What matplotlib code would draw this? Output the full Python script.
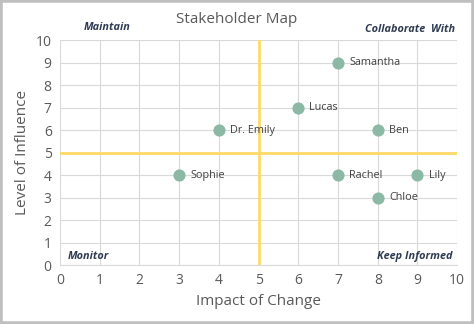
import matplotlib as mpl
mpl.use('Agg')
import matplotlib.pyplot as plt
from matplotlib.patches import Rectangle

names = ['Samantha', 'Lucas', 'Dr. Emily', 'Ben', 'Sophie', 'Rachel', 'Lily', 'Chloe']
impact = [7, 6, 4, 8, 3, 7, 9, 8]
influence = [9, 7, 6, 6, 4, 4, 4, 3]

plt.rcParams['font.family'] = ['Open Sans', 'DejaVu Sans']
txt = '#595959'
quad = '#2f3b52'

fig = plt.figure(figsize=(4.74, 3.24), dpi=100)
fig.patches.append(Rectangle((0, 0), 1, 1, transform=fig.transFigure,
                             fill=False, edgecolor='#bfbfbf', linewidth=4))
ax = fig.add_axes([0.1266, 0.182, 0.838, 0.694])
ax.set_xlim(0, 10)
ax.set_ylim(0, 10)
ax.set_xticks(range(11))
ax.set_yticks(range(11))
ax.grid(True, color='#d9d9d9', linewidth=0.8)
ax.set_axisbelow(True)
for s in ax.spines.values():
    s.set_visible(False)
ax.spines['bottom'].set_visible(True)
ax.spines['bottom'].set_color('#d9d9d9')
ax.tick_params(length=0, labelsize=10, colors=txt, pad=6)

ax.axvline(5, color='#ffd966', linewidth=2, zorder=2)
ax.axhline(5, color='#ffd966', linewidth=2, zorder=2)

ax.scatter(impact, influence, s=60, color='#8cb9a6', zorder=3)
for n, x, y in zip(names, impact, influence):
    ax.annotate(n, (x, y), xytext=(8, 0), textcoords='offset points',
                va='center', ha='left', fontsize=7.8, color='#404040')

ax.set_xlabel('Impact of Change', fontsize=11, color=txt, labelpad=4)
ax.set_ylabel('Level of Influence', fontsize=11, color=txt, labelpad=4)

fig.text(0.5, 0.94, 'Stakeholder Map', ha='center', va='center', fontsize=11, color=txt)
fig.text(0.226, 0.915, 'Maintain', ha='center', va='center', fontsize=7.8,
         color=quad, style='italic', weight='bold')
fig.text(0.96, 0.91, 'Collaborate  With', ha='right', va='center', fontsize=7.8,
         color=quad, style='italic', weight='bold')
fig.text(0.142, 0.207, 'Monitor', ha='left', va='center', fontsize=7.8,
         color=quad, style='italic', weight='bold')
fig.text(0.954, 0.207, 'Keep Informed', ha='right', va='center', fontsize=7.8,
         color=quad, style='italic', weight='bold')

plt.savefig('out.png', dpi=100)
plt.close()
